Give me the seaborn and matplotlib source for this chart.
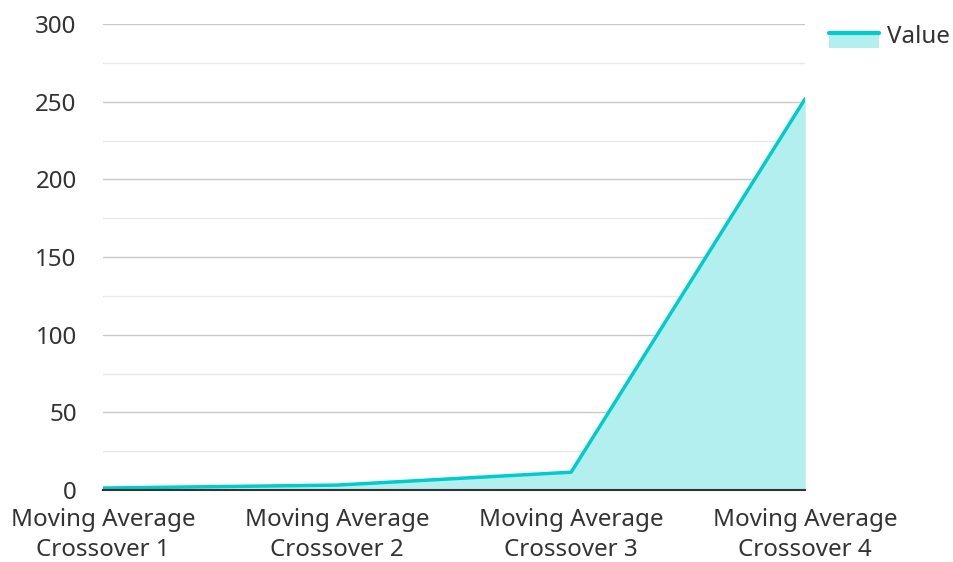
import pandas as pd
import seaborn as sns
import matplotlib.pyplot as plt
from matplotlib.lines import Line2D
from matplotlib.patches import Rectangle
from matplotlib.legend_handler import HandlerBase
from matplotlib.ticker import MultipleLocator

categories = ["Moving Average\nCrossover 1", "Moving Average\nCrossover 2",
              "Moving Average\nCrossover 3", "Moving Average\nCrossover 4"]
values = [1.3, 3.2, 11.5, 252]

df = pd.DataFrame({"Strategy": categories, "Value": values})

sns.set_style("white")
plt.rcParams['font.family'] = ['Noto Sans', 'DejaVu Sans']

line_color = "#00CCCC"
fill_color = "#B2EFEE"
text_color = "#333333"
fs = 17.4


class AreaHandler(HandlerBase):
    # line on top of a filled box, like the area legend in the original
    def create_artists(self, legend, orig_handle, xdescent, ydescent,
                       width, height, fontsize, trans):
        top = -ydescent + height * 0.6
        bottom = -ydescent - height * 0.3
        rect = Rectangle((-xdescent, bottom), width, top - bottom,
                         facecolor=fill_color, edgecolor="none", transform=trans)
        line = Line2D([-xdescent, -xdescent + width], [top, top],
                      color=line_color, linewidth=3, transform=trans)
        return [rect, line]


fig = plt.figure(figsize=(9.54, 5.62), dpi=100)
ax = fig.add_axes([0.108, 0.128, 0.736, 0.829])

x = list(range(len(categories)))
ax.fill_between(x, 0, df["Value"], color=fill_color, linewidth=0, zorder=2)
sns.lineplot(x=x, y=df["Value"], ax=ax, color=line_color, linewidth=2.5, zorder=3)

ax.set_xlim(0, len(categories) - 1)
ax.set_ylim(0, 300)
ax.set_xticks(x)
ax.set_xticklabels(categories, fontsize=fs, color=text_color, linespacing=1.3)
ax.yaxis.set_major_locator(MultipleLocator(50))
ax.yaxis.set_minor_locator(MultipleLocator(25))
ax.tick_params(axis="y", labelsize=fs, labelcolor=text_color, length=0, pad=19, which="both")
ax.tick_params(axis="x", length=0, pad=13)
ax.grid(axis="y", which="major", color="#c8c8c8", linewidth=1, zorder=1)
ax.grid(axis="y", which="minor", color="#e8e8e8", linewidth=1, zorder=1)
ax.set_xlabel("")
ax.set_ylabel("")
for s in ["top", "right", "left"]:
    ax.spines[s].set_visible(False)
ax.spines["bottom"].set_color(text_color)
ax.spines["bottom"].set_linewidth(1.5)
ax.spines["bottom"].set_zorder(4)

fig.legend([object()], ["Value"], handler_map={object: AreaHandler()},
           loc="upper left", bbox_to_anchor=(829 / 954, 1 - 25 / 562),
           frameon=False, fontsize=fs, labelcolor=text_color,
           handlelength=2.05, handletextpad=0.35, borderpad=0, borderaxespad=0)

fig.savefig("out.png", dpi=100)
